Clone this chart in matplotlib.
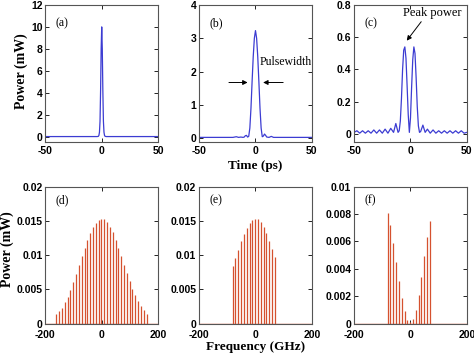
import numpy as np
import matplotlib
matplotlib.use("Agg")
import matplotlib.pyplot as plt
from matplotlib.ticker import FuncFormatter

plt.rcParams['axes.unicode_minus'] = False
plt.rcParams['font.family'] = ['Liberation Sans', 'DejaVu Sans']
plt.rcParams['font.weight'] = 'bold'

# time domain traces (ps, mW)
t_a = [-50, -4, -3, -2.5, -2, -1.5, -1, -0.5, 0, 0.5, 1, 1.5, 2, 2.5, 3, 4, 50]
p_a = [0.0, 0.0, 0.02, 0.1, 0.4, 1.4, 4.2, 8.0, 10.0, 8.0, 4.2, 1.4, 0.4, 0.1, 0.02, 0.0, 0.0]

t_b = [-50, -30, -20, -17, -15, -13, -11, -10, -9, -8, -7, -6, -5, -4, -3, -2, -1, 0,
       1, 2, 3, 4, 5, 6, 7, 8, 9, 10, 12, 14, 16, 18, 20, 30, 50]
p_b = [0.02, 0.02, 0.02, 0.04, 0.02, 0.03, 0.02, 0.03, 0.07, 0.08, 0.03, 0.05, 0.3, 0.9,
       1.7, 2.45, 3.0, 3.23, 3.0, 2.45, 1.7, 0.9, 0.3, 0.04, 0.06, 0.12, 0.08, 0.03,
       0.02, 0.05, 0.02, 0.02, 0.02, 0.02, 0.02]

t_c = [-50, -47.5, -45, -42.5, -40, -37.5, -35, -32.5, -30, -27.5, -25, -22.5, -20,
       -17.5, -15, -13, -11, -10, -9, -8, -7, -6, -5, -4, -3, -2, -1, 0, 1, 2, 3, 4,
       5, 6, 7, 8, 9, 11, 13, 15, 17.5, 20, 22.5, 25, 27.5, 30, 32.5, 35, 37.5, 40,
       42.5, 45, 47.5, 50]
p_c = [0.01, 0.02, 0.005, 0.02, 0.005, 0.02, 0.005, 0.025, 0.005, 0.025, 0.005, 0.03,
       0.005, 0.035, 0.01, 0.065, 0.01, 0.02, 0.08, 0.22, 0.4, 0.52, 0.54, 0.47, 0.3,
       0.12, 0.01, 0.1, 0.29, 0.46, 0.54, 0.5, 0.35, 0.17, 0.05, 0.01, 0.015, 0.055,
       0.01, 0.03, 0.005, 0.025, 0.005, 0.02, 0.005, 0.02, 0.005, 0.02, 0.005, 0.02,
       0.005, 0.02, 0.005, 0.01]

# spectral lines (GHz, mW)
f_d = [-161, -151, -141, -131, -121, -111, -101, -91, -81, -71, -61, -51, -41, -31,
       -21, -11, -1, 9, 19, 29, 39, 49, 59, 69, 79, 89, 99, 109, 119, 129, 139, 149, 159]
s_d = [0.0014, 0.0018, 0.0023, 0.0031, 0.0039, 0.0049, 0.006, 0.0072, 0.0085, 0.0098,
       0.011, 0.0122, 0.0132, 0.0141, 0.0147, 0.0151, 0.0153, 0.0152, 0.0148, 0.0141,
       0.0133, 0.0122, 0.0111, 0.0099, 0.0086, 0.0074, 0.0062, 0.0051, 0.0042, 0.0033,
       0.0026, 0.002, 0.0014]

f_e = [-81, -71, -61, -51, -41, -31, -21, -11, -1, 9, 19, 29, 39, 49, 59, 69]
s_e = [0.0084, 0.0096, 0.0108, 0.012, 0.0131, 0.014, 0.0147, 0.0151, 0.0153, 0.0152,
       0.0148, 0.0141, 0.0132, 0.0121, 0.0109, 0.0097]

f_f = [-81, -71, -61, -51, -41, -31, -21, -11, -1, 9, 19, 29, 39, 49, 59, 69]
s_f = [0.0081, 0.0072, 0.0059, 0.0045, 0.0031, 0.0019, 0.0009, 0.00025, 0.00015,
       0.0003, 0.001, 0.0021, 0.0034, 0.0049, 0.0063, 0.0075]

blue = '#3c3cd2'
red = '#d5512f'

fig = plt.figure(figsize=(4.74, 3.56), dpi=100)
lefts = [0.0956, 0.420, 0.747]
axes_top = [fig.add_axes([l, 0.601, 0.238, 0.385]) for l in lefts]
axes_bot = [fig.add_axes([l, 0.091, 0.238, 0.385]) for l in lefts]

for ax in axes_top + axes_bot:
    ax.tick_params(direction='in', top=True, right=True, length=3, width=0.6,
                   labelsize=7.5, pad=2)
    ax.tick_params(axis='x', pad=3)
    for sp in ax.spines.values():
        sp.set_color('#555555')
        sp.set_linewidth(0.8)

# top row
for ax, t, p in zip(axes_top, [t_a, t_b, t_c], [p_a, p_b, p_c]):
    ax.plot(t, p, color=blue, lw=0.9)
    ax.set_xlim(-50, 50)
    ax.set_xticks([-50, 0, 50])

axes_top[0].set_ylim(-0.5, 12)
axes_top[0].set_yticks(range(0, 13, 2))
axes_top[1].set_ylim(-0.12, 4)
axes_top[1].set_yticks(range(0, 5))
axes_top[2].set_ylim(-0.05, 0.8)
axes_top[2].set_yticks([0, 0.2, 0.4, 0.6, 0.8])
axes_top[2].yaxis.set_major_formatter(FuncFormatter(lambda v, _: '%g' % v))

# bottom row
for ax, f, s in zip(axes_bot, [f_d, f_e, f_f], [s_d, s_e, s_f]):
    ax.axhline(0, color=red, lw=1.0)
    ax.vlines(f, 0, s, color=red, lw=0.9)
    ax.set_xlim(-200, 200)
    ax.set_xticks([-200, 0, 200])
    ax.tick_params(axis='x', pad=4.5)
    ax.yaxis.set_major_formatter(FuncFormatter(lambda v, _: '%g' % round(v, 4)))

axes_bot[0].set_ylim(0, 0.02)
axes_bot[0].set_yticks([0, 0.005, 0.01, 0.015, 0.02])
axes_bot[1].set_ylim(0, 0.02)
axes_bot[1].set_yticks([0, 0.005, 0.01, 0.015, 0.02])
axes_bot[2].set_ylim(0, 0.01)
axes_bot[2].set_yticks([0, 0.002, 0.004, 0.006, 0.008, 0.01])

serif = ['Liberation Serif', 'DejaVu Serif']
for ax, lab in zip(axes_top + axes_bot, ['(a)', '(b)', '(c)', '(d)', '(e)', '(f)']):
    y = 0.87 if ax in axes_top else 0.90
    ax.text(0.09, y, lab, transform=ax.transAxes, family=serif, fontsize=8.5,
            fontweight='normal', va='center', ha='left')

# annotations
axes_top[1].text(4, 2.3, 'Pulsewidth', family=serif, fontsize=8.5,
                 fontweight='normal', va='center')
arrow = dict(arrowstyle='-|>', color='k', lw=0.7, mutation_scale=7)
axes_top[1].annotate('', xy=(-4.5, 1.67), xytext=(-26, 1.67), arrowprops=arrow)
axes_top[1].annotate('', xy=(4.3, 1.67), xytext=(27, 1.67), arrowprops=arrow)

axes_top[2].text(-7, 0.75, 'Peak power', family=serif, fontsize=9,
                 fontweight='normal', va='center')
axes_top[2].annotate('', xy=(-4.8, 0.565), xytext=(11, 0.71), arrowprops=arrow)

fig.text(0.539, 0.534, 'Time (ps)', family=serif, fontsize=9.5,
         ha='center', va='center')
fig.text(0.539, 0.025, 'Frequency (GHz)', family=serif, fontsize=9.5,
         ha='center', va='center')
fig.text(0.044, 0.80, 'Power (mW)', family=serif, fontsize=10,
         ha='center', va='center', rotation=90)
fig.text(0.016, 0.30, 'Power (mW)', family=serif, fontsize=10,
         ha='center', va='center', rotation=90)

fig.savefig('out.png', dpi=100)
